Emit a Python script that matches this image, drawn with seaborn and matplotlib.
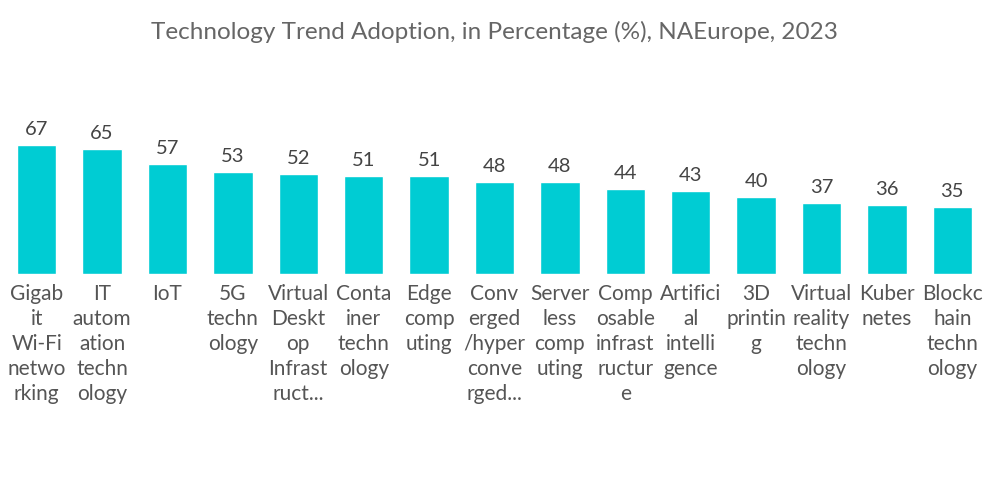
import pandas as pd
import matplotlib
matplotlib.use("Agg")
import matplotlib.pyplot as plt
import seaborn as sns

categories = ["Gigabit Wi-Fi networking", "IT automation technology", "IoT",
              "5G technology", "Virtual Desktop Infrastructure", "Container technology",
              "Edge computing", "Converged/hyperconverged infrastructure",
              "Serverless computing", "Composable infrastructure",
              "Artificial intelligence", "3D printing", "Virtual reality technology",
              "Kubernetes", "Blockchain technology"]
values = [67, 65, 57, 53, 52, 51, 51, 48, 48, 44, 43, 40, 37, 36, 35]
tick_labels = ["Gigab\nit\nWi-Fi\nnetwo\nrking", "IT\nautom\nation\ntechn\nology", "IoT",
               "5G\ntechn\nology", "Virtual\nDeskt\nop\nInfrast\nruct...",
               "Conta\niner\ntechn\nology", "Edge\ncomp\nuting",
               "Conv\nerged\n/hyper\nconve\nrged...", "Server\nless\ncomp\nuting",
               "Comp\nosable\ninfrast\nructur\ne", "Artifici\nal\nintelli\ngence",
               "3D\nprintin\ng", "Virtual\nreality\ntechn\nology", "Kuber\nnetes",
               "Blockc\nhain\ntechn\nology"]

df = pd.DataFrame({"category": categories, "value": values})

sns.set_style("white")
plt.rcParams["font.family"] = ["Lato", "DejaVu Sans"]

fig = plt.figure(figsize=(10, 5.04), dpi=100)
ax = fig.add_axes([0.004, 0.456, 0.981, 0.306])

sns.barplot(data=df, x="category", y="value", color="#00CCD3", width=0.6,
            saturation=1, ax=ax)
ax.set_ylim(0, 80)
ax.bar_label(ax.containers[0], padding=5, fontsize=14.5, color="#444444")

ax.set_xticks(range(len(tick_labels)))
ax.set_xticklabels(tick_labels, fontsize=15, color="#555555", linespacing=1.31,
                   va="top")
ax.tick_params(axis="x", length=0, pad=7)
ax.set_yticks([])
ax.set_xlabel("")
ax.set_ylabel("")
for s in ax.spines.values():
    s.set_visible(False)

fig.suptitle("Technology Trend Adoption, in Percentage (%), NAEurope, 2023",
             fontsize=17.5, color="#666666", y=0.958, x=0.494)

fig.savefig("out.png", dpi=100)
